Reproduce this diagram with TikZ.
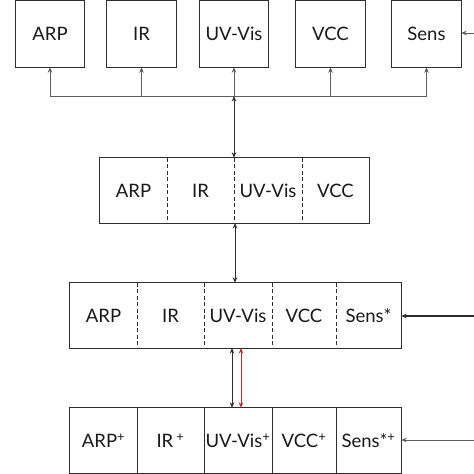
\documentclass[tikz,border=0pt]{standalone}
\usepackage{fontspec}
\setmainfont{Lato}
\usetikzlibrary{arrows.meta}
\definecolor{ln}{HTML}{2E2E2E}
\definecolor{lg}{HTML}{5E5E5E}
\definecolor{rd}{HTML}{C62828}
\begin{document}
\begin{tikzpicture}[x=1pt,y=-1pt,
  cell/.style={draw=none,inner sep=0pt,minimum height=65pt,font=\fontsize{18.5}{22}\selectfont,text=black!90},
  tipa/.style={-{Stealth[length=5.5pt,width=4.5pt]}},
  tipb/.style={{Stealth[length=5.5pt,width=4.5pt]}-{Stealth[length=5.5pt,width=4.5pt]}},
  frame/.style={draw=ln,line width=1.1pt},
  dv/.style={draw=ln,line width=0.9pt,dash pattern=on 4pt off 2.5pt},
  conn/.style={draw=ln,line width=0.9pt},
  gconn/.style={draw=lg,line width=0.9pt}]
\useasboundingbox (0,0) rectangle (474,474);
\clip (0,0) rectangle (474,474);
% top row
\node[cell,minimum width=68pt,minimum height=66pt] (t1) at (50,34) {ARP};
\node[cell,minimum width=69pt,minimum height=66pt] (t2) at (141.5,34) {IR};
\node[cell,minimum width=68pt,minimum height=66pt] (t3) at (234,34) {UV-Vis};
\node[cell,minimum width=69pt,minimum height=66pt] (t4) at (330.5,34) {VCC};
\node[cell,minimum width=69pt,minimum height=66pt] (t5) at (426.5,34) {Sens};
\foreach \n in {t1,t2,t3,t4,t5} \draw[frame] (\n.north west) rectangle (\n.south east);
% second box
\node[cell,minimum width=67pt] (b1) at (133.5,190.5) {ARP};
\node[cell,minimum width=67pt] (b2) at (200.5,190.5) {IR};
\node[cell,minimum width=68pt] (b3) at (268,190.5) {UV-Vis};
\node[cell,minimum width=67pt] (b4) at (335.5,190.5) {VCC};
\draw[frame] (b1.north west) rectangle (b4.south east);
\foreach \n in {b1,b2,b3} \draw[dv] (\n.north east) -- (\n.south east);
% third box
\node[cell,minimum width=67pt] (c1) at (103.5,315.5) {ARP};
\node[cell,minimum width=67pt] (c2) at (170.5,315.5) {IR};
\node[cell,minimum width=68pt] (c3) at (238,315.5) {UV-Vis};
\node[cell,minimum width=64pt] (c4) at (304,315.5) {VCC};
\node[cell,minimum width=65pt] (c5) at (368.5,315.5) {Sens*};
\draw[frame] (c1.north west) rectangle (c5.south east);
\foreach \n in {c1,c2,c3,c4} \draw[dv] (\n.north east) -- (\n.south east);
% fourth box
\node[cell,minimum width=67pt] (d1) at (103.5,440.5) {ARP\textsuperscript{+}};
\node[cell,minimum width=67pt] (d2) at (170.5,440.5) {IR\,\textsuperscript{+}};
\node[cell,minimum width=68pt] (d3) at (238,440.5) {UV-Vis\textsuperscript{+}};
\node[cell,minimum width=64pt] (d4) at (304,440.5) {VCC\textsuperscript{+}};
\node[cell,minimum width=65pt] (d5) at (368.5,440.5) {Sens*\textsuperscript{+}};
\draw[frame] (d1.north west) rectangle (d5.south east);
\foreach \n in {d1,d2,d3,d4} \draw[frame] (\n.north east) -- (\n.south east);
% bus
\coordinate (bus) at (234,96);
\draw[gconn] (bus -| t1.south) -- (bus -| t5.south);
\foreach \n in {t1,t2,t3,t4,t5} \draw[gconn,tipa] (bus -| \n.south) -- (\n.south);
\draw[conn,tipb] (bus) -- (bus |- b1.north);
% box2 to box3
\draw[conn,tipb] (235,223) coordinate (m1) -- (m1 |- c1.north);
% box3 to box4
\coordinate (k1) at (232,348);
\coordinate (k2) at (241,348);
\draw[conn,tipb] (k1) -- (k1 |- d1.north);
\draw[draw=rd,line width=0.9pt,tipb] (k2) -- (k2 |- d1.north);
% right inputs
\coordinate (r1) at (474,33);
\coordinate (r2) at (474,316);
\coordinate (r3) at (474,440);
\draw[gconn,tipa] (r1) -- (r1 -| t5.east);
\draw[conn,line width=1.4pt,tipa] (r2) -- (r2 -| c5.east);
\draw[gconn,tipa] (r3) -- (r3 -| d5.east);
\end{tikzpicture}
\end{document}
